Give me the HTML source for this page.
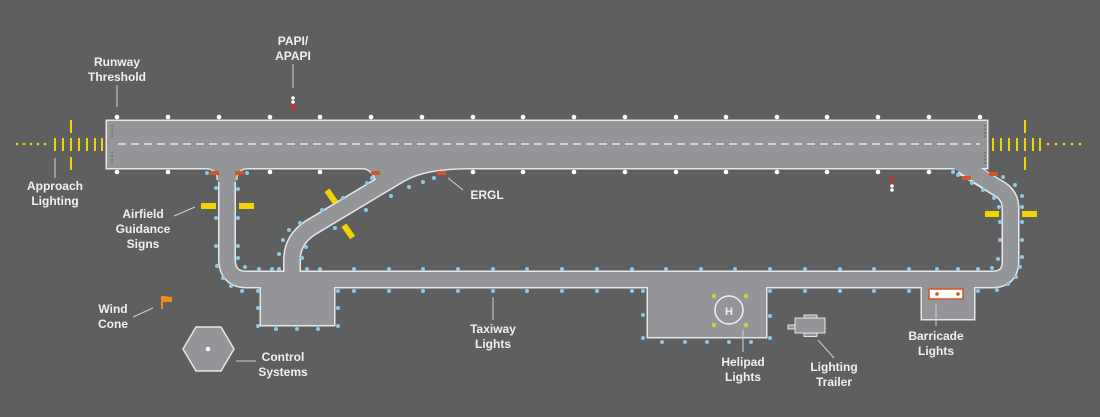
<!DOCTYPE html>
<html><head><meta charset="utf-8"><style>
html,body{margin:0;padding:0;background:#5f5f5f;}
svg{display:block}
text{font-family:"Liberation Sans",sans-serif;font-weight:bold;font-size:12px;fill:#f0f0f0;text-anchor:middle}
</style></head><body>
<svg width="1100" height="417" viewBox="0 0 1100 417" xmlns="http://www.w3.org/2000/svg">
<rect width="1100" height="417" fill="#5f5f5f"/>
<!-- pavement edge layer -->
<g fill="#939598" stroke="#e6e6e6" stroke-width="3">
<rect x="107" y="121" width="880" height="47"/>
<rect x="261" y="280" width="73" height="45"/>
<rect x="648" y="280" width="118" height="57"/>
<rect x="922" y="280" width="52" height="39"/>
</g>
<g fill="none" stroke="#e6e6e6" stroke-width="18" stroke-linejoin="round">
<path d="M227 160 L227 259 Q227 279.5 247 279.5 L992 279.5 Q1010.5 279.5 1010.5 261 L1010.5 208 Q1010.5 194 996 187 L962 166"/>
<path d="M410 168 L310 228 Q292 240 292 260 L292 280"/>
</g>
<g fill="none" stroke="#e6e6e6" stroke-width="3">
<path d="M206 168 Q218 168 218 180"/>
<path d="M248 168 Q236 168 236 180"/>
<path d="M362 168 Q372 168 376 180"/>
<path d="M405 180 Q425 168 470 168"/>
</g>
<!-- pavement fill layer -->
<g fill="#939598">
<rect x="107" y="121" width="880" height="47"/>
<rect x="261" y="280" width="73" height="45"/>
<rect x="648" y="280" width="118" height="57"/>
<rect x="922" y="280" width="52" height="39"/>
<path d="M206 166 L206 168 Q218 168 218 182 L236 182 Q236 168 248 168 L248 166 Z"/>
<path d="M362 166 L362 168 Q372 168 376 180 L405 180 Q425 168 470 168 L470 166 Z"/>
</g>
<g fill="none" stroke="#939598" stroke-width="15" stroke-linejoin="round">
<path d="M227 150 L227 259 Q227 279.5 247 279.5 L992 279.5 Q1010.5 279.5 1010.5 261 L1010.5 208 Q1010.5 194 996 187 L955 160"/>
<path d="M420 162 L410 168 L310 228 Q292 240 292 260 L292 280"/>
</g>
<line x1="118" y1="144" x2="980" y2="144" stroke="#e6e6e6" stroke-width="1.5" stroke-dasharray="8,5"/>
<!-- threshold marks -->
<g stroke="#6b7a55" stroke-width="2" stroke-dasharray="1.5,2">
<line x1="112" y1="125" x2="112" y2="137"/><line x1="112" y1="152" x2="112" y2="165"/>
<line x1="985" y1="125" x2="985" y2="137"/><line x1="985" y1="152" x2="985" y2="165"/>
</g>
<!-- runway edge lights -->
<g fill="#fff">
<circle cx="117" cy="117" r="2.3"/><circle cx="168" cy="117" r="2.3"/><circle cx="219" cy="117" r="2.3"/><circle cx="270" cy="117" r="2.3"/><circle cx="320" cy="117" r="2.3"/><circle cx="371" cy="117" r="2.3"/><circle cx="422" cy="117" r="2.3"/><circle cx="473" cy="117" r="2.3"/><circle cx="523" cy="117" r="2.3"/><circle cx="574" cy="117" r="2.3"/><circle cx="625" cy="117" r="2.3"/><circle cx="676" cy="117" r="2.3"/><circle cx="726" cy="117" r="2.3"/><circle cx="777" cy="117" r="2.3"/><circle cx="827" cy="117" r="2.3"/><circle cx="878" cy="117" r="2.3"/><circle cx="929" cy="117" r="2.3"/><circle cx="980" cy="117" r="2.3"/>
<circle cx="117" cy="172" r="2.3"/><circle cx="168" cy="172" r="2.3"/><circle cx="270" cy="172" r="2.3"/><circle cx="320" cy="172" r="2.3"/><circle cx="473" cy="172" r="2.3"/><circle cx="523" cy="172" r="2.3"/><circle cx="574" cy="172" r="2.3"/><circle cx="625" cy="172" r="2.3"/><circle cx="676" cy="172" r="2.3"/><circle cx="726" cy="172" r="2.3"/><circle cx="777" cy="172" r="2.3"/><circle cx="827" cy="172" r="2.3"/><circle cx="878" cy="172" r="2.3"/><circle cx="929" cy="172" r="2.3"/>
</g>
<!-- taxiway lights -->
<g fill="#8cc8ea">
<circle cx="307" cy="269" r="2"/><circle cx="320" cy="269" r="2"/><circle cx="354" cy="269" r="2"/><circle cx="389" cy="269" r="2"/><circle cx="423" cy="269" r="2"/><circle cx="458" cy="269" r="2"/><circle cx="493" cy="269" r="2"/><circle cx="527" cy="269" r="2"/><circle cx="562" cy="269" r="2"/><circle cx="597" cy="269" r="2"/><circle cx="632" cy="269" r="2"/><circle cx="666" cy="269" r="2"/><circle cx="701" cy="269" r="2"/><circle cx="735" cy="269" r="2"/><circle cx="770" cy="269" r="2"/><circle cx="805" cy="269" r="2"/><circle cx="840" cy="269" r="2"/><circle cx="874" cy="269" r="2"/><circle cx="909" cy="269" r="2"/><circle cx="937" cy="269" r="2"/><circle cx="958" cy="269" r="2"/><circle cx="978" cy="269" r="2"/><circle cx="992" cy="268" r="2"/>
<circle cx="242" cy="291" r="2"/><circle cx="258" cy="291" r="2"/><circle cx="338" cy="291" r="2"/><circle cx="354" cy="291" r="2"/><circle cx="389" cy="291" r="2"/><circle cx="423" cy="291" r="2"/><circle cx="458" cy="291" r="2"/><circle cx="493" cy="291" r="2"/><circle cx="527" cy="291" r="2"/><circle cx="562" cy="291" r="2"/><circle cx="597" cy="291" r="2"/><circle cx="632" cy="291" r="2"/><circle cx="643" cy="291" r="2"/><circle cx="770" cy="291" r="2"/><circle cx="805" cy="291" r="2"/><circle cx="840" cy="291" r="2"/><circle cx="874" cy="291" r="2"/><circle cx="909" cy="291" r="2"/><circle cx="978" cy="291" r="2"/><circle cx="997" cy="290" r="2"/><circle cx="1008" cy="284" r="2"/><circle cx="1016" cy="277" r="2"/>
<circle cx="258" cy="308" r="2"/><circle cx="258" cy="326" r="2"/><circle cx="276" cy="329" r="2"/><circle cx="297" cy="329" r="2"/><circle cx="318" cy="329" r="2"/><circle cx="338" cy="326" r="2"/><circle cx="338" cy="308" r="2"/>
<circle cx="643" cy="315" r="2"/><circle cx="643" cy="338" r="2"/><circle cx="662" cy="342" r="2"/><circle cx="685" cy="342" r="2"/><circle cx="707" cy="342" r="2"/><circle cx="729" cy="342" r="2"/><circle cx="751" cy="342" r="2"/><circle cx="770" cy="338" r="2"/><circle cx="770" cy="316" r="2"/>
<circle cx="207" cy="173" r="2"/><circle cx="216" cy="188" r="2"/><circle cx="216" cy="218" r="2"/><circle cx="216" cy="246" r="2"/><circle cx="217" cy="266" r="2"/><circle cx="223" cy="278" r="2"/><circle cx="231" cy="286" r="2"/>
<circle cx="247" cy="173" r="2"/><circle cx="238" cy="189" r="2"/><circle cx="238" cy="218" r="2"/><circle cx="238" cy="246" r="2"/><circle cx="238" cy="258" r="2"/><circle cx="245" cy="267" r="2"/><circle cx="259" cy="269" r="2"/><circle cx="272" cy="269" r="2"/>
<circle cx="279" cy="269" r="2"/><circle cx="279" cy="254" r="2"/><circle cx="283" cy="240" r="2"/><circle cx="289" cy="230" r="2"/><circle cx="300" cy="223" r="2"/><circle cx="322" cy="210" r="2"/><circle cx="343" cy="198" r="2"/><circle cx="367" cy="183" r="2"/><circle cx="372" cy="178" r="2"/>
<circle cx="302" cy="258" r="2"/><circle cx="306" cy="247" r="2"/><circle cx="335" cy="228" r="2"/><circle cx="366" cy="210" r="2"/><circle cx="391" cy="196" r="2"/><circle cx="409" cy="187" r="2"/><circle cx="423" cy="182" r="2"/><circle cx="434" cy="178" r="2"/>
<circle cx="1003" cy="177" r="2"/><circle cx="1015" cy="185" r="2"/><circle cx="1022" cy="196" r="2"/><circle cx="1022" cy="207" r="2"/><circle cx="1022" cy="222" r="2"/><circle cx="1022" cy="240" r="2"/><circle cx="1022" cy="257" r="2"/><circle cx="1020" cy="267" r="2"/>
<circle cx="953" cy="172" r="2"/><circle cx="958" cy="175" r="2"/><circle cx="972" cy="183" r="2"/><circle cx="983" cy="190" r="2"/><circle cx="994" cy="198" r="2"/><circle cx="999" cy="207" r="2"/><circle cx="1000" cy="222" r="2"/><circle cx="1000" cy="240" r="2"/><circle cx="998" cy="259" r="2"/>
</g>
<!-- ERGL markers -->
<g fill="#d0582a">
<rect x="210" y="171" width="9" height="4"/><rect x="235" y="171" width="9" height="4"/><rect x="371" y="171" width="9" height="4"/><rect x="437" y="171" width="9" height="4"/><rect x="962" y="176" width="9" height="4"/><rect x="989" y="172" width="9" height="4"/>
</g>
<!-- guidance signs -->
<g fill="#f2d500">
<rect x="201" y="203" width="15" height="6"/><rect x="239" y="203" width="15" height="6"/>
<rect x="985" y="211" width="14" height="6"/><rect x="1022" y="211" width="15" height="6"/>
<rect x="324" y="193" width="15" height="6" transform="rotate(55 331 196)"/>
<rect x="341" y="228" width="15" height="6" transform="rotate(55 348 231)"/>
</g>
<!-- approach lighting -->
<g fill="#f2d500">
<circle cx="17" cy="144" r="1.3"/><circle cx="24" cy="144" r="1.3"/><circle cx="31" cy="144" r="1.3"/><circle cx="38" cy="144" r="1.3"/><circle cx="45" cy="144" r="1.3"/>
<rect x="54" y="138" width="2" height="13"/><rect x="62" y="138" width="2" height="13"/><rect x="70" y="138" width="2" height="13"/><rect x="78" y="138" width="2" height="13"/><rect x="86" y="138" width="2" height="13"/><rect x="94" y="138" width="2" height="13"/><rect x="101" y="138" width="2" height="13"/>
<rect x="70" y="120" width="2" height="13"/><rect x="70" y="157" width="2" height="13"/>
<circle cx="1048" cy="144" r="1.3"/><circle cx="1056" cy="144" r="1.3"/><circle cx="1064" cy="144" r="1.3"/><circle cx="1072" cy="144" r="1.3"/><circle cx="1080" cy="144" r="1.3"/>
<rect x="992" y="138" width="2" height="13"/><rect x="1000" y="138" width="2" height="13"/><rect x="1008" y="138" width="2" height="13"/><rect x="1016" y="138" width="2" height="13"/><rect x="1024" y="138" width="2" height="13"/><rect x="1032" y="138" width="2" height="13"/><rect x="1039" y="138" width="2" height="13"/>
<rect x="1024" y="120" width="2" height="13"/><rect x="1024" y="157" width="2" height="13"/>
</g>
<!-- PAPI -->
<circle cx="293" cy="98" r="1.8" fill="#fff"/><circle cx="293" cy="102" r="1.8" fill="#fff"/><rect x="291.5" y="104" width="3" height="6" fill="#d42a2a"/>
<rect x="890.5" y="177" width="3" height="6" fill="#d42a2a"/><circle cx="892" cy="186" r="1.8" fill="#fff"/><circle cx="892" cy="190" r="1.8" fill="#fff"/>
<!-- helipad -->
<circle cx="729" cy="310" r="14" fill="none" stroke="#f0f0f0" stroke-width="1.5"/>
<text x="729" y="315" style="font-size:11px">H</text>
<g fill="#bcd63a"><circle cx="714" cy="296" r="2.3"/><circle cx="746" cy="296" r="2.3"/><circle cx="714" cy="325" r="2.3"/><circle cx="746" cy="325" r="2.3"/></g>
<!-- barricade -->
<rect x="929" y="289" width="34" height="10" fill="#fff" stroke="#d4512a" stroke-width="1.5"/>
<circle cx="937" cy="294" r="1.8" fill="#d4512a"/><circle cx="958" cy="294" r="1.8" fill="#d4512a"/>
<!-- trailer -->
<g fill="#939598" stroke="#e6e6e6" stroke-width="1">
<rect x="804" y="315" width="13" height="3"/><rect x="804" y="333" width="13" height="3.5"/><rect x="788" y="325" width="7" height="4"/><rect x="795" y="318" width="30" height="15"/>
</g>
<!-- control systems -->
<polygon points="183,349 196,327 221,327 234,349 221,371 196,371" fill="#939598" stroke="#e6e6e6" stroke-width="1.5"/>
<circle cx="208" cy="349" r="2.3" fill="#fff"/>
<!-- wind cone -->
<rect x="161" y="296" width="2" height="13" fill="#f08c1e"/><polygon points="163,296 172,297 172,302 163,302" fill="#f08c1e"/>
<!-- leader lines -->
<g stroke="#d0d0d0" stroke-width="1" fill="none">
<line x1="293" y1="64" x2="293" y2="88"/>
<line x1="117" y1="85" x2="117" y2="107"/>
<line x1="55" y1="158" x2="55" y2="178"/>
<line x1="174" y1="216" x2="195" y2="207"/>
<line x1="448" y1="178" x2="463" y2="190"/>
<line x1="133" y1="317" x2="153" y2="308"/>
<line x1="236" y1="361" x2="256" y2="361"/>
<line x1="493" y1="297" x2="493" y2="320"/>
<line x1="743" y1="330" x2="743" y2="352"/>
<line x1="818" y1="340" x2="834" y2="358"/>
<line x1="936" y1="304" x2="936" y2="326"/>
</g>
<!-- labels -->
<text x="293" y="45">PAPI/</text><text x="293" y="60">APAPI</text>
<text x="117" y="66">Runway</text><text x="117" y="81">Threshold</text>
<text x="55" y="190">Approach</text><text x="55" y="205">Lighting</text>
<text x="143" y="218">Airfield</text><text x="143" y="233">Guidance</text><text x="143" y="248">Signs</text>
<text x="487" y="199">ERGL</text>
<text x="113" y="313">Wind</text><text x="113" y="328">Cone</text>
<text x="283" y="361">Control</text><text x="283" y="376">Systems</text>
<text x="493" y="333">Taxiway</text><text x="493" y="348">Lights</text>
<text x="743" y="366">Helipad</text><text x="743" y="381">Lights</text>
<text x="834" y="371">Lighting</text><text x="834" y="386">Trailer</text>
<text x="936" y="340">Barricade</text><text x="936" y="355">Lights</text>
</svg>
</body></html>
